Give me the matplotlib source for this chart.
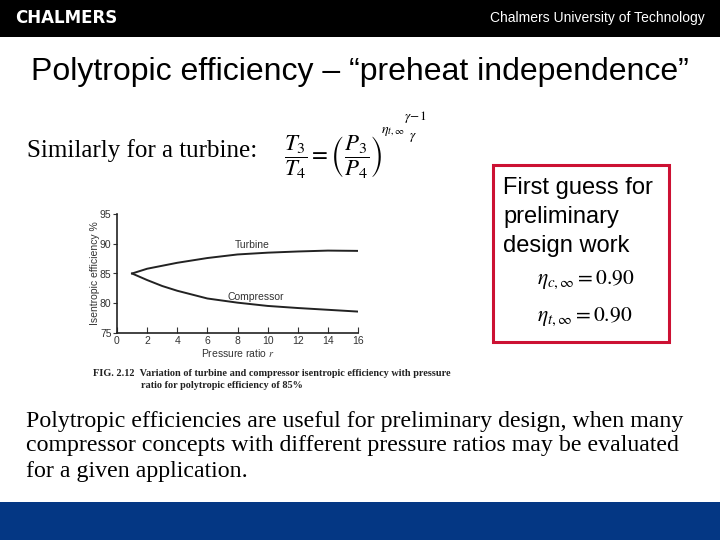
import matplotlib
matplotlib.use("Agg")
import matplotlib.pyplot as plt
from matplotlib.patches import Rectangle

plt.rcParams['mathtext.fontset'] = 'stix'

# ---- data ----
pressure_ratio = [1, 2, 3, 4, 6, 8, 10, 12, 14, 16]
turbine_eff = [85.0, 85.8, 86.3, 86.8, 87.6, 88.2, 88.5, 88.7, 88.85, 88.8]
compressor_eff = [85.0, 83.9, 82.9, 82.1, 80.8, 80.1, 79.55, 79.2, 78.9, 78.6]
x_ticks = [0, 2, 4, 6, 8, 10, 12, 14, 16]
y_ticks = [75, 80, 85, 90, 95]

W, H = 720, 540
fig = plt.figure(figsize=(7.2, 5.4), dpi=100)
fig.patch.set_facecolor('white')

def fx(px):
    return px / W

def fy(py):
    return 1 - py / H

# header bar
fig.patches.append(Rectangle((0, fy(37)), 1, 37 / H, transform=fig.transFigure,
                             facecolor='black', edgecolor='none', zorder=0))
fig.text(fx(15), fy(18), 'CHALMERS', color='white', fontsize=12, fontweight='bold',
         family='DejaVu Sans', va='center', ha='left')
fig.text(fx(705), fy(18), 'Chalmers University of Technology', color='white', fontsize=10,
         family='Liberation Sans', va='center', ha='right')

# footer bar
fig.patches.append(Rectangle((0, 0), 1, 38 / H, transform=fig.transFigure,
                             facecolor='#043784', edgecolor='none', zorder=0))

# title
fig.text(fx(360), fy(72), 'Polytropic efficiency – “preheat independence”', fontsize=23,
         family='Liberation Sans', ha='center', va='center')

# turbine relation
fig.text(fx(27), fy(151), 'Similarly for a turbine:', fontsize=18, family='Liberation Serif',
         ha='left', va='center')
fig.text(fx(284), fy(157),
         r'$\dfrac{T_3}{T_4}=\left(\dfrac{P_3}{P_4}\right)$',
         fontsize=16.5, ha='left', va='center')
fig.text(fx(381), fy(131), r'$\eta_{t,\infty}$', fontsize=10, ha='left', va='center')
fig.text(fx(415), fy(117), r'$\gamma\!-\!1$', fontsize=9.5, ha='center', va='center')
fig.text(fx(413), fy(138), r'$\gamma$', fontsize=9.5, ha='center', va='center')

# red box
fig.patches.append(Rectangle((fx(493), fy(342)), (669 - 493) / W, (342 - 165) / H,
                             transform=fig.transFigure, facecolor='white',
                             edgecolor='#cc1133', linewidth=2.2, zorder=1))
for i, line in enumerate(['First guess for', 'preliminary', 'design work']):
    fig.text(fx(503), fy(188 + 29 * i), line, fontsize=17, family='Liberation Sans',
             ha='left', va='center', zorder=2)
fig.text(fx(537), fy(280), r'$\eta_{c,\infty}=0.90$', fontsize=15.5, ha='left', va='center', zorder=2)
fig.text(fx(537), fy(317), r'$\eta_{t,\infty}=0.90$', fontsize=15.5, ha='left', va='center', zorder=2)

# chart
ax = fig.add_axes([fx(117), fy(333), (358 - 117) / W, (333 - 214) / H])
ax.plot(pressure_ratio, turbine_eff, color='#222222', lw=1.4)
ax.plot(pressure_ratio, compressor_eff, color='#222222', lw=1.4)
ax.set_xlim(0, 16)
ax.set_ylim(75, 95)
ax.set_xticks(x_ticks)
ax.set_yticks(y_ticks)
for s in ['top', 'right']:
    ax.spines[s].set_visible(False)
for s in ['left', 'bottom']:
    ax.spines[s].set_color('#222222')
    ax.spines[s].set_linewidth(1.2)
for lab in ax.get_xticklabels() + ax.get_yticklabels():
    lab.set_family('Liberation Sans')
ax.tick_params(axis='x', direction='in', length=4, labelsize=7.5, colors='#333333', pad=2)
ax.tick_params(axis='y', direction='out', length=3, labelsize=7.5, colors='#333333', pad=1)
ax.set_xlabel('Pressure ratio $r$', fontsize=7.5, color='#333333', labelpad=1, family='Liberation Sans')
ax.set_ylabel('Isentropic efficiency %', fontsize=7.5, color='#333333', labelpad=0, family='Liberation Sans')
ax.text(9.0, 89.8, 'Turbine', fontsize=7.5, color='#333333', ha='center', va='center', family='Liberation Sans')
ax.text(9.2, 81.0, 'Compressor', fontsize=7.5, color='#333333', ha='center', va='center', family='Liberation Sans')
ax.patch.set_alpha(0)

fig.text(fx(93), fy(373), 'FIG. 2.12  Variation of turbine and compressor isentropic efficiency with pressure',
         fontsize=7.35, fontweight='bold', family='Liberation Serif', ha='left', va='center', color='#222222')
fig.text(fx(141), fy(386), 'ratio for polytropic efficiency of 85%',
         fontsize=7.35, fontweight='bold', family='Liberation Serif', ha='left', va='center', color='#222222')

# paragraph
para = ['Polytropic efficiencies are useful for preliminary design, when many',
        'compressor concepts with different pressure ratios may be evaluated',
        'for a given application.']
for i, line in enumerate(para):
    fig.text(fx(26), fy(421 + 25 * i), line, fontsize=17.2, family='Liberation Serif',
             ha='left', va='center')

fig.savefig('out.png', dpi=100)
